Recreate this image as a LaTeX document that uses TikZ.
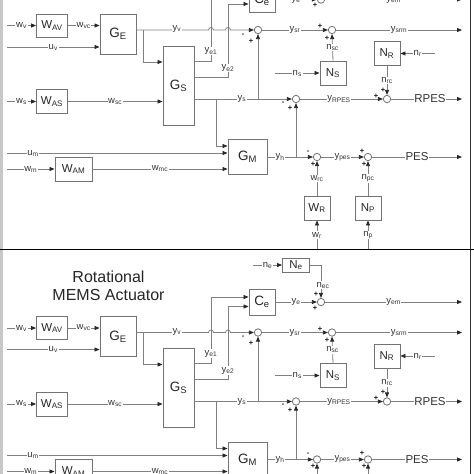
\documentclass[tikz,border=0pt]{standalone}
\usepackage{fontspec}
\setmainfont{Liberation Sans}
\usetikzlibrary{arrows.meta}
\tikzset{
  x=1pt, y=-1pt,
  blk/.style={draw=black!55, line width=0.9pt, fill=white, inner sep=0pt, text=black!85},
  nbox/.style={minimum width=26pt, minimum height=24pt},
  gfont/.style={font=\fontsize{13.5}{14}\selectfont},
  wfont/.style={font=\fontsize{11.5}{12}\selectfont},
  sumc/.style={circle, draw=black!55, line width=0.8pt, fill=white, minimum size=7.4pt, inner sep=0pt},
  wire/.style={draw=black!50, line width=0.8pt},
  arr/.style={wire, -{Triangle[length=5pt,width=4pt,color=black!85]}},
  sig/.style={fill=white, inner sep=0.7pt, text=black!80, font=\fontsize{9.5}{10}\selectfont},
  bigsig/.style={sig, font=\fontsize{11.5}{12}\selectfont},
  sgn/.style={inner sep=0pt, text=black!90, font=\fontsize{7.5}{7.5}\selectfont\bfseries},
  ttlstyle/.style={align=center, font=\fontsize{16}{18.5}\selectfont, text=black!85}
}
\newcommand\drawmems{%
  \node[ttlstyle] (ttl) at (108.5,-16.5) {Rotational\\MEMS Actuator};
  % blocks
  \node[blk,wfont,minimum width=31pt,minimum height=23pt] (wav) at (52,25.5) {W\textsubscript{AV}};
  \node[blk,gfont,minimum width=36pt,minimum height=40pt] (ge) at (118,34) {G\textsubscript{E}};
  \node[blk,gfont,minimum width=31pt,minimum height=79pt] (gs) at (178.5,85.5) {G\textsubscript{S}};
  \node[blk,wfont,minimum width=31pt,minimum height=24pt] (was) at (52,101.5) {W\textsubscript{AS}};
  \node[blk,wfont,minimum width=37pt,minimum height=24pt] (wam) at (73.5,169) {W\textsubscript{AM}};
  \node[blk,gfont,minimum width=39pt,minimum height=35pt] (gm) at (247.5,157) {G\textsubscript{M}};
  \node[blk,gfont,minimum width=26pt,minimum height=26pt] (ce) at (262,-0.5) {C\textsubscript{e}};
  \node[blk,wfont,minimum width=27pt,minimum height=14pt] (ne) at (296,-37.5) {N\textsubscript{e}};
  \node[blk,wfont,nbox] (ns) at (333,73) {N\textsubscript{S}};
  \node[blk,wfont,nbox] (nr) at (387,53.5) {N\textsubscript{R}};
  \node[blk,wfont,nbox] (wr) at (317,208) {W\textsubscript{R}};
  \node[blk,wfont,nbox] (np) at (368,208) {N\textsubscript{P}};
  % summing junctions
  \node[sumc] (se) at (321,-0.5) {};
  \node[sumc] (sr) at (258,30) {};
  \node[sumc] (srm) at (332,30) {};
  \node[sumc] (sa) at (296,99) {};
  \node[sumc] (sb) at (387,99) {};
  \node[sumc] (sc) at (317,157) {};
  \node[sumc] (sd) at (368,157) {};
  % free ends and bends
  \coordinate (wvin) at (7,25.5);
  \coordinate (uvin) at (7,47);
  \coordinate (wsin) at (7,101.5);
  \coordinate (umin) at (7,153);
  \coordinate (wmin) at (7,169);
  \coordinate (nein) at (253,-37.5);
  \coordinate (nsin) at (275,73);
  \coordinate (nrin) at (435,53.5);
  \coordinate (wrin) at (317,264);
  \coordinate (npin) at (368,264);
  \coordinate (yemout) at (462,-0.5);
  \coordinate (ysrmout) at (462,30);
  \coordinate (rpesout) at (462,99);
  \coordinate (pesout) at (462,157);
  \coordinate (yvy) at (0,30);
  \coordinate (yvb) at (143,30);
  \coordinate (yvb2) at (143,62);
  \coordinate (ye1b) at (211,61);
  \coordinate (ye1c) at (211,-5.5);
  \coordinate (ye2b) at (228,77);
  \coordinate (ye2c) at (228,4);
  \coordinate (ysb1) at (216,99);
  \coordinate (ysb2) at (258,99);
  \coordinate (gmin1) at (216,146);
  \coordinate (yhb) at (296,157);
  % left inputs
  \draw[arr] (wvin) -- node[sig] (lwv) {w\textsubscript{v}} (wav.west);
  \draw[arr] (wav.east) -- node[sig] (lwvc) {w\textsubscript{vc}} (ge.west |- wav.east);
  \draw[arr] (uvin) -- node[sig] (luv) {u\textsubscript{v}} (ge.west |- uvin);
  \draw[arr] (wsin) -- node[sig] (lws) {w\textsubscript{s}} (was.west);
  \draw[arr] (was.east) -- node[sig] (lwsc) {w\textsubscript{sc}} (gs.west |- was.east);
  \draw[arr] (umin) -- (gm.west |- umin);
  \node[sig] (lum) at (33,153) {u\textsubscript{m}};
  \draw[arr] (wmin) -- node[sig] (lwm) {w\textsubscript{m}} (wam.west);
  \draw[arr] (wam.east) -- node[sig] (lwmc) {w\textsubscript{mc}} (gm.west |- wam.east);
  % y_v with hops
  \draw[arr] (ge.east |- yvy) -- (208.5,30) arc[start angle=180,end angle=360,radius=2.5]
     -- (225.5,30) arc[start angle=180,end angle=360,radius=2.5] -- (sr.west);
  \node[sig] (lyv) at (177,29) {y\textsubscript{v}};
  \draw[arr] (yvb) -- (yvb2) -- (gs.west |- yvb2);
  % G_S outputs
  \draw[arr] (gs.east |- ye1b) -- (ye1b) -- (ye1c) -- (ce.west |- ye1c);
  \node[sig] (lye1) at (211,51) {y\textsubscript{e1}};
  \draw[arr] (gs.east |- ye2b) -- (ye2b) -- (ye2c) -- (ce.west |- ye2c);
  \node[sig] (lye2) at (228,68) {y\textsubscript{e2}};
  \draw[arr] (gs.east |- ysb1) -- (sa.west);
  \node[sig] (lys) at (242,99) {y\textsubscript{s}};
  \draw[arr] (ysb1) -- (gmin1) -- (gm.west |- gmin1);
  \draw[arr] (ysb2) -- (sr.south);
  % C_e branch
  \draw[arr] (nein) -- node[sig] (lne) {n\textsubscript{e}} (ne.west);
  \draw[arr] (ne.east) -| (se.north);
  \node[sig] (lnec) at (323,-17.5) {n\textsubscript{ec}};
  \draw[arr] (ce.east) -- node[sig] (lye) {y\textsubscript{e}} (se.west);
  \draw[arr] (se.east) -- node[sig] (lyem) {y\textsubscript{em}} (yemout);
  % y_sr row
  \draw[arr] (sr.east) -- node[sig] (lysr) {y\textsubscript{sr}} (srm.west);
  \draw[arr] (srm.east) -- node[sig] (lysrm) {y\textsubscript{srm}} (ysrmout);
  \draw[arr] (nsin) -- node[sig] (lns) {n\textsubscript{s}} (ns.west);
  \draw[arr] (ns.north) -- node[sig] (lnsc) {n\textsubscript{sc}} (srm.south);
  % RPES row
  \draw[arr] (nrin) -- node[sig] (lnr) {n\textsubscript{r}} (nr.east);
  \draw[arr] (nr.south) -- node[sig] (lnrc) {n\textsubscript{rc}} (sb.north);
  \draw[arr] (sa.east) -- (sb.west);
  \node[sig] (lyrpes) at (339,99) {y\textsubscript{RPES}};
  \draw[arr] (sb.east) -- (rpesout);
  \node[bigsig] (lrpes) at (430,99) {RPES};
  % PES row
  \draw[arr] (gm.east) -- (sc.west);
  \node[sig] (lyh) at (280,157) {y\textsubscript{h}};
  \draw[arr] (yhb) -- (sa.south);
  \draw[arr] (sc.east) -- node[sig] (lypes) {y\textsubscript{pes}} (sd.west);
  \draw[arr] (sd.east) -- node[bigsig] (lpes) {PES} (pesout);
  \draw[arr] (wr.north) -- node[sig] (lwrc) {w\textsubscript{rc}} (sc.south);
  \draw[arr] (wrin) -- (wr.south);
  \node[sig] (lwr) at (317,235) {w\textsubscript{r}};
  \draw[arr] (np.north) -- node[sig] (lnpc) {n\textsubscript{pc}} (sd.south);
  \draw[arr] (npin) -- (np.south);
  \node[sig] (lnp) at (368,235) {n\textsubscript{p}};
  % signs
  \node[sgn] (g1) at (316,-8.5) {+};
  \node[sgn] (g2) at (315,5.5) {+};
  \node[sgn] (g3) at (243,35) {-};
  \node[sgn] (g4) at (251,41) {+};
  \node[sgn] (g5) at (320,26.5) {+};
  \node[sgn] (g6) at (327,38) {+};
  \node[sgn] (g7) at (283,103) {-};
  \node[sgn] (g8) at (290,108) {+};
  \node[sgn] (g9) at (376,96) {+};
  \node[sgn] (g10) at (383,90) {+};
  \node[sgn] (g11) at (308,152) {-};
  \node[sgn] (g12) at (313,164) {+};
  \node[sgn] (g13) at (362,151) {+};
  \node[sgn] (g14) at (364,164) {+};
}
\begin{document}
\begin{tikzpicture}
  \useasboundingbox (0,0) rectangle (474,474);
  \fill[white] (0,0) rectangle (474,474);
  \begin{scope}
    \clip (0,0) rectangle (474,248.5);
    \drawmems
  \end{scope}
  \begin{scope}
    \clip (0,250.5) rectangle (474,474);
    \begin{scope}[shift={(0,302.5)}]
      \drawmems
    \end{scope}
  \end{scope}
  \fill[black!22] (0,0) rectangle (3,474);
  \draw[black!80, line width=1.6pt] (470.5,0) -- (470.5,474);
  \draw[black, line width=1.8pt] (0,249.5) -- (474,249.5);
\end{tikzpicture}
\end{document}
